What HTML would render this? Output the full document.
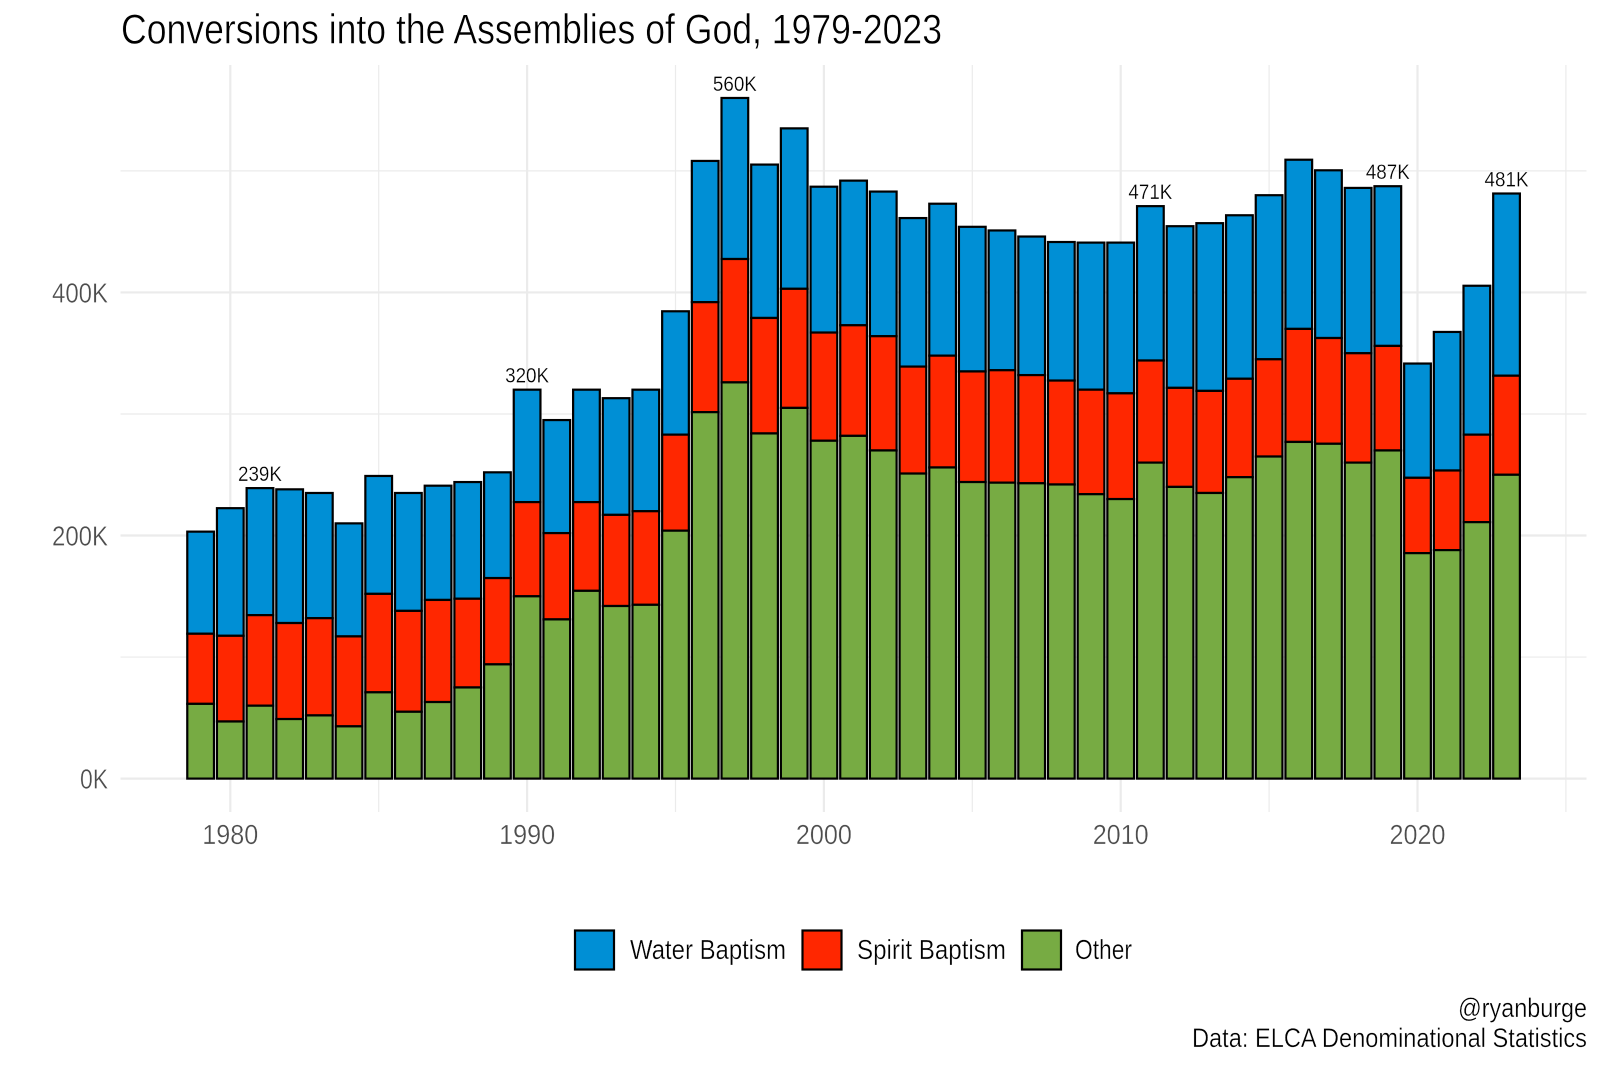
<!DOCTYPE html>
<html lang="en">
<head>
<meta charset="utf-8">
<title>Conversions into the Assemblies of God, 1979-2023</title>
<style>
html,body{margin:0;padding:0;background:#fff;}
body{width:1600px;height:1066px;overflow:hidden;}
svg{display:block;}
text{font-family:"Liberation Sans Narrow","Liberation Sans",sans-serif;stroke:#fff;stroke-width:0.35;}
</style>
</head>
<body>
<svg id="chart" width="1600" height="1066" viewBox="0 0 1600 1066" xmlns="http://www.w3.org/2000/svg">
  <rect x="0" y="0" width="1600" height="1066" fill="#ffffff"/>
  <text x="121" y="43.5" font-size="42" style="stroke-width:0.5" fill="#000" textLength="821" lengthAdjust="spacingAndGlyphs">Conversions into the Assemblies of God, 1979-2023</text>
  <g id="grid"></g>
  <g id="bars"></g>
  <g id="bar-labels"></g>
  <g id="x-axis"></g>
  <g id="y-axis"></g>
  <g>
    <g>
      <rect x="575" y="930.5" width="39" height="39" fill="#008fd5" stroke="#000" stroke-width="2.2"/>
      <text x="630" y="959" font-size="28" fill="#000" textLength="156" lengthAdjust="spacingAndGlyphs">Water Baptism</text>
    </g>
    <g>
      <rect x="802.5" y="930.5" width="39" height="39" fill="#ff2700" stroke="#000" stroke-width="2.2"/>
      <text x="857" y="959" font-size="28" fill="#000" textLength="149" lengthAdjust="spacingAndGlyphs">Spirit Baptism</text>
    </g>
    <g>
      <rect x="1022" y="930.5" width="39" height="39" fill="#77ab43" stroke="#000" stroke-width="2.2"/>
      <text x="1075" y="959" font-size="28" fill="#000" textLength="57" lengthAdjust="spacingAndGlyphs">Other</text>
    </g>
  </g>
  <text x="1458" y="1017" font-size="27" fill="#000" textLength="129" lengthAdjust="spacingAndGlyphs">@ryanburge</text>
  <text x="1192" y="1047" font-size="27" fill="#000" textLength="395" lengthAdjust="spacingAndGlyphs">Data: ELCA Denominational Statistics</text>
</svg>
<script>
const years = [1979,1980,1981,1982,1983,1984,1985,1986,1987,1988,1989,1990,1991,1992,1993,1994,1995,1996,1997,1998,1999,2000,2001,2002,2003,2004,2005,2006,2007,2008,2009,2010,2011,2012,2013,2014,2015,2016,2017,2018,2019,2020,2021,2022,2023];
const otherValues = [61.5,47,60,49,52,43,71,55,63,75,94,150,131,154.5,142,143,204,301.5,326,284,305,278,282,270,251,256,244,243.5,243,242,234,230,260,240,235,248,265,277,275.5,260,270,185.5,188,211,250];
const spiritValues = [57.7,70.5,74.5,79,80,74,81,83,84,73,71,77.5,71,73,75,77,79,90.5,101.5,95,98,89,91,94,88,92,91,92.5,89,85.5,86,87,84,81.5,84,81,80,93,87,90,86,62,65.5,72,81.5];
const waterValues = [84,105,104.5,110,103,93,97,97,94,96,87,92.5,93,92.5,96,100,101.5,116.2,132.5,126.2,132,120,119,119,122.2,125,119,115,114,114,121,124,127,133,138,134.5,135,139.2,138,136,131.4,94,114,122.5,149.9];
const labeledYears = [1981,1990,1997,2011,2019,2023];
const xMajorTicks = [1980,1990,2000,2010,2020];
const xMinorTicks = [1985,1995,2005,2015,2025];
const yMajorTicks = [0,200,400];
const yMinorTicks = [100,300,500];

const SVGNS = 'http://www.w3.org/2000/svg';
const panel = {left:120.5, right:1586.5, top:65, bottom:812};
const xScale = v => 230.3 + (v - 1980) * 29.68;
const yScale = v => 778.6 - v * 1.2154;
const barWidth = 26.7;
const barStroke = 2.2;

function make(tag, attrs, parent) {
  const el = document.createElementNS(SVGNS, tag);
  for (const k in attrs) el.setAttribute(k, attrs[k]);
  parent.appendChild(el);
  return el;
}

const grid = document.getElementById('grid');
yMinorTicks.forEach(t => {
  const el = make('line', {x1:panel.left, x2:panel.right, y1:yScale(t), y2:yScale(t), stroke:'#ebebeb', 'stroke-width':1.2}, grid);
  
  
});
xMinorTicks.forEach(t => {
  const el = make('line', {x1:xScale(t), x2:xScale(t), y1:panel.top, y2:panel.bottom, stroke:'#ebebeb', 'stroke-width':1.2}, grid);
  
  
});
yMajorTicks.forEach(t => {
  const el = make('line', {x1:panel.left, x2:panel.right, y1:yScale(t), y2:yScale(t), stroke:'#ebebeb', 'stroke-width':2.2}, grid);
  
  
});
xMajorTicks.forEach(t => {
  const el = make('line', {x1:xScale(t), x2:xScale(t), y1:panel.top, y2:panel.bottom, stroke:'#ebebeb', 'stroke-width':2.2}, grid);
  
  
});

const barsGroup = document.getElementById('bars');
years.forEach((year, i) => {
  const x = xScale(year) - barWidth / 2;
  const o = otherValues[i], s = spiritValues[i], w = waterValues[i];
  const water = make('rect', {x:x, y:yScale(o + s + w), width:barWidth, height:yScale(o + s) - yScale(o + s + w), fill:'#008fd5', stroke:'#000', 'stroke-width':barStroke}, barsGroup);
  
  
  const spirit = make('rect', {x:x, y:yScale(o + s), width:barWidth, height:yScale(o) - yScale(o + s), fill:'#ff2700', stroke:'#000', 'stroke-width':barStroke}, barsGroup);
  
  
  const other = make('rect', {x:x, y:yScale(o), width:barWidth, height:yScale(0) - yScale(o), fill:'#77ab43', stroke:'#000', 'stroke-width':barStroke}, barsGroup);
  
  
});

const labelGroup = document.getElementById('bar-labels');
labeledYears.forEach(year => {
  const i = years.indexOf(year);
  const total = otherValues[i] + spiritValues[i] + waterValues[i];
  const el = make('text', {x:xScale(year), y:yScale(total) - 7, 'text-anchor':'middle', 'font-size':21, fill:'#000', style:'stroke-width:0.25', textLength:44, lengthAdjust:'spacingAndGlyphs'}, labelGroup);
  el.textContent = Math.round(total) + 'K';
  
  
});

const xAxis = document.getElementById('x-axis');
xMajorTicks.forEach(t => {
  const el = make('text', {x:xScale(t), y:844, 'text-anchor':'middle', 'font-size':28, fill:'#4d4d4d', textLength:56, lengthAdjust:'spacingAndGlyphs'}, xAxis);
  el.textContent = t;
  
  
});

const yAxis = document.getElementById('y-axis');
yMajorTicks.forEach(t => {
  const label = t + 'K';
  const el = make('text', {x:108, y:yScale(t) + 10, 'text-anchor':'end', 'font-size':28, fill:'#4d4d4d', textLength:t === 0 ? 28 : 56, lengthAdjust:'spacingAndGlyphs'}, yAxis);
  el.textContent = label;
  
  
});
</script>
</body>
</html>
